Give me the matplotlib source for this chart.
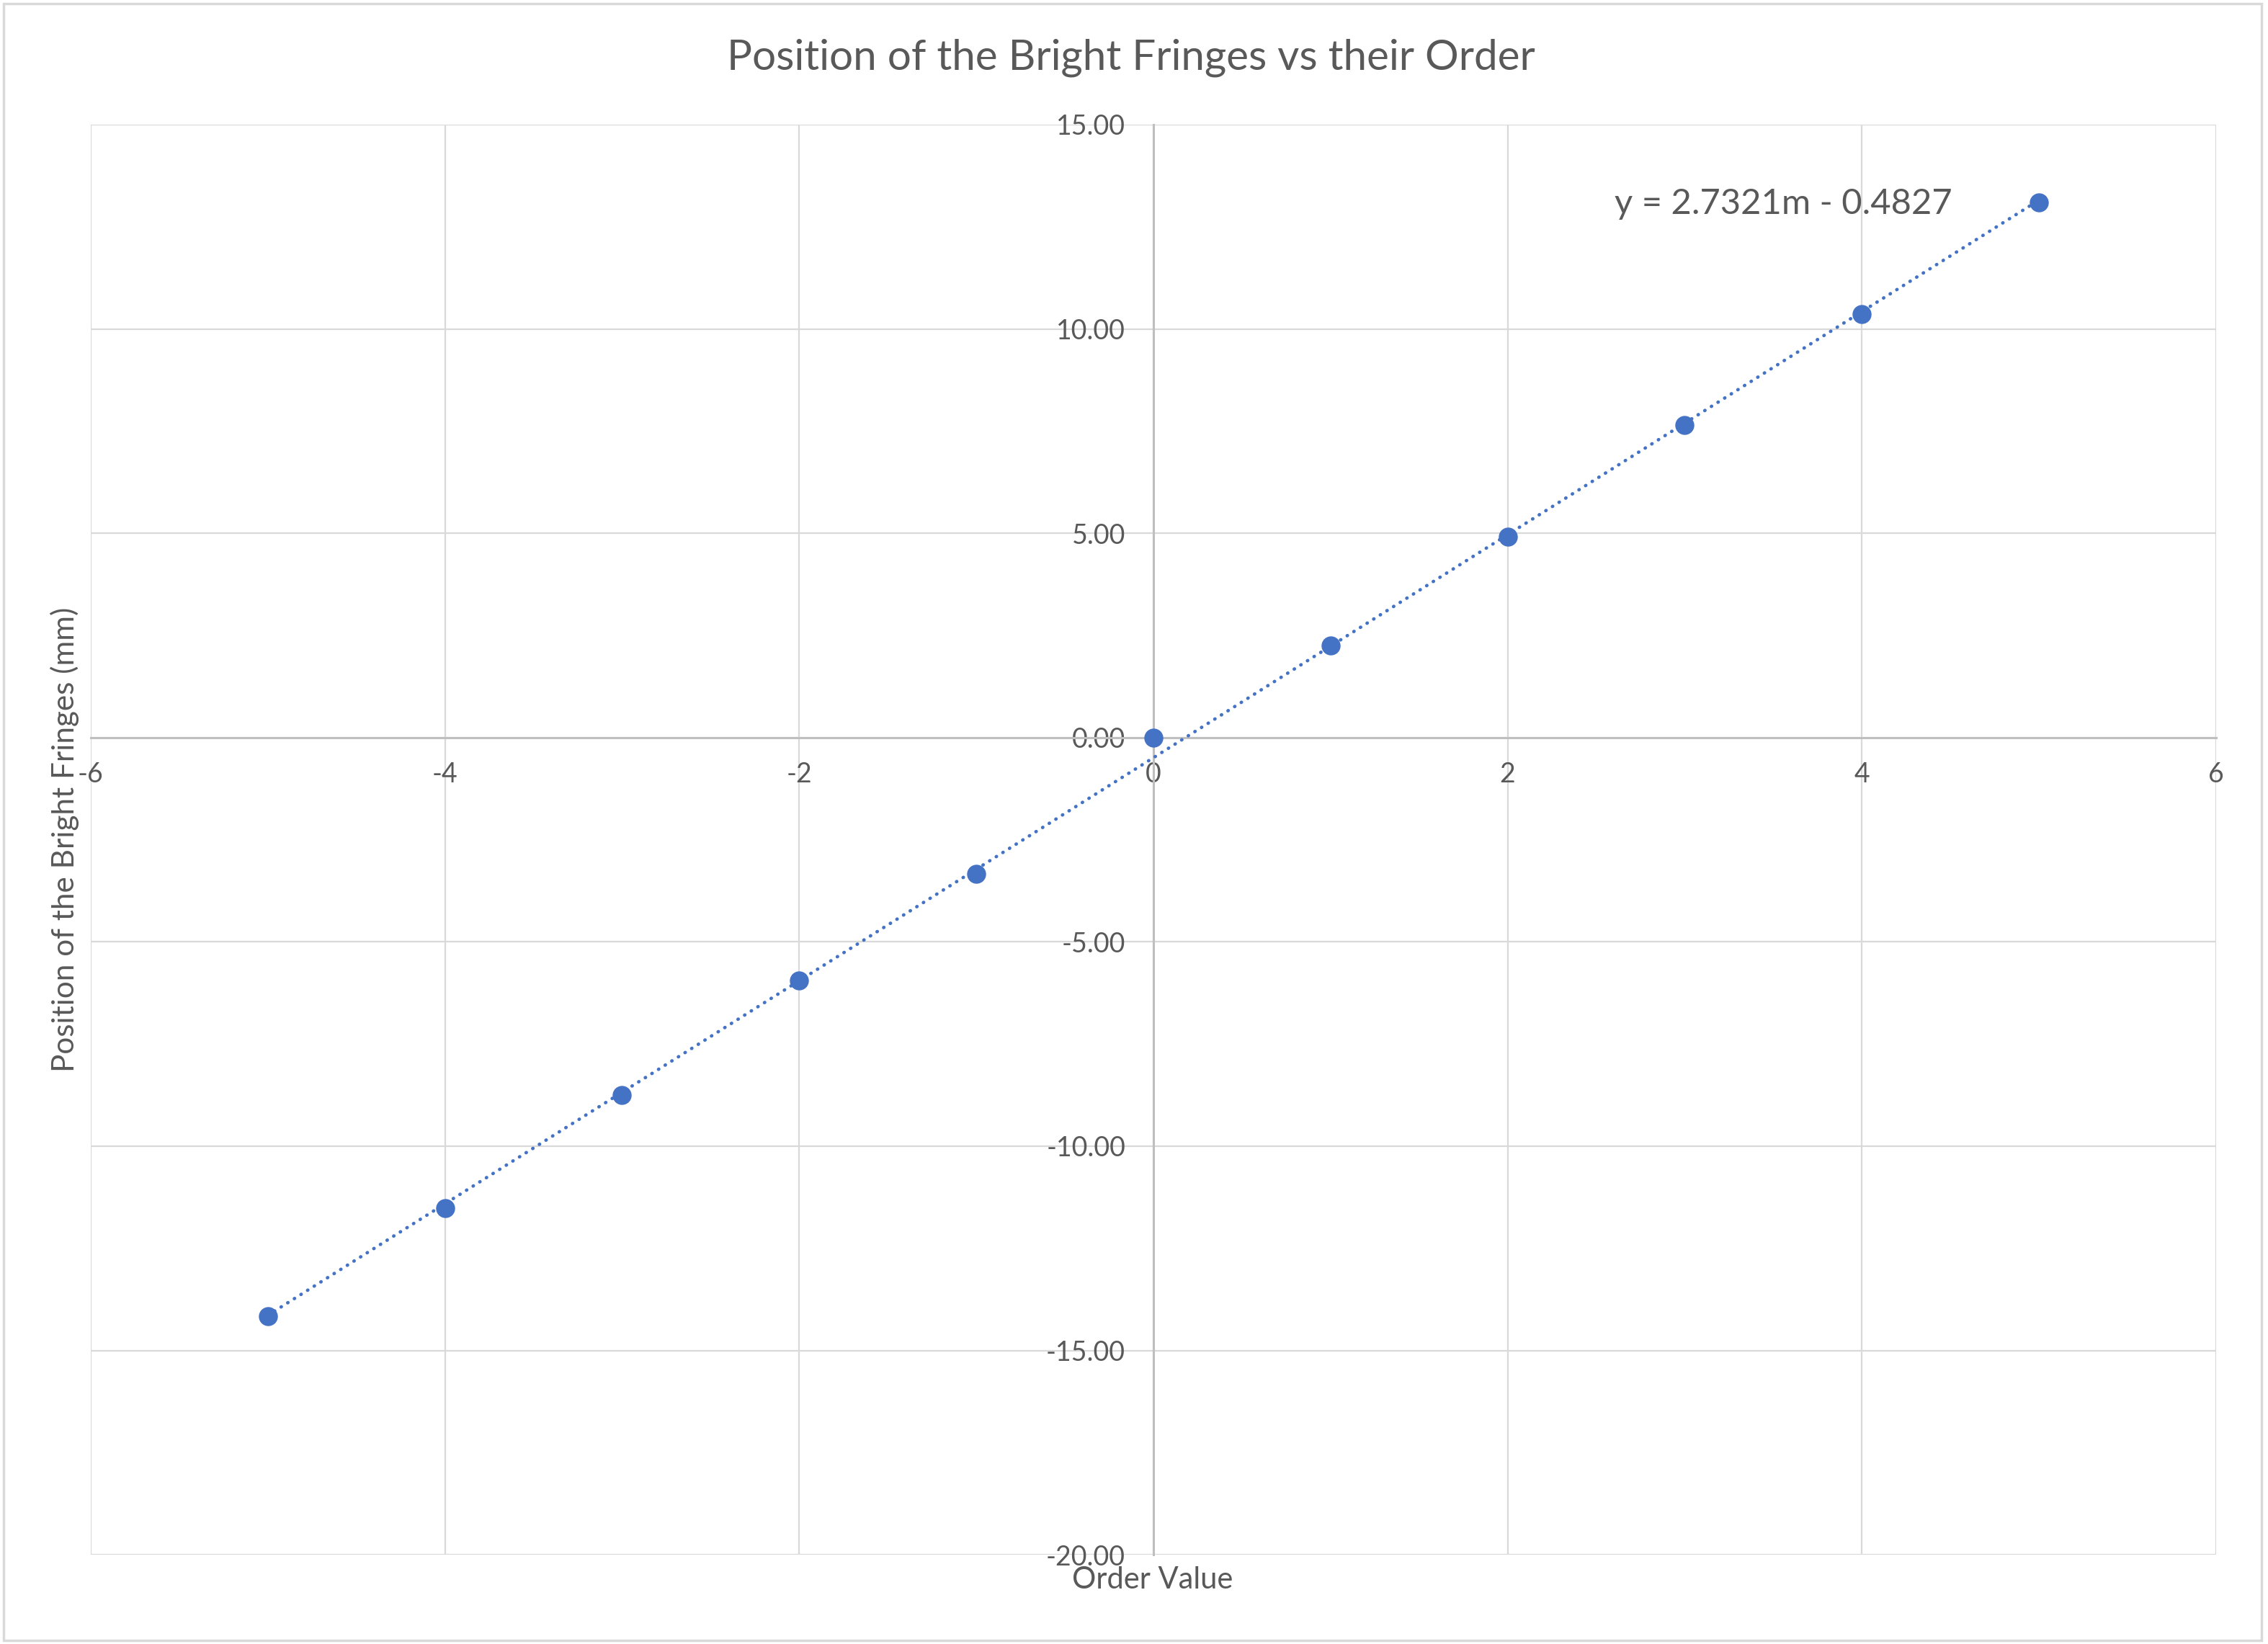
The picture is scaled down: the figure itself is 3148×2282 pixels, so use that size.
import numpy as np
import matplotlib.pyplot as plt
from matplotlib.patches import Rectangle
from matplotlib.ticker import FormatStrFormatter

# order m and measured bright fringe position (mm)
order = [-5, -4, -3, -2, -1, 0, 1, 2, 3, 4, 5]
position = [-14.16, -11.51, -8.75, -5.95, -3.33, 0.0, 2.26, 4.91, 7.64, 10.36, 13.09]
x_ticks = [-6, -4, -2, 0, 2, 4, 6]
y_ticks = [-20, -15, -10, -5, 0, 5, 10, 15]
eq_text = "y = 2.7321m - 0.4827"

plt.rcParams['font.family'] = ['Lato', 'DejaVu Sans']
plt.rcParams['axes.unicode_minus'] = False
grey = '#595959'
blue = '#4472C4'

fig = plt.figure(figsize=(31.48, 22.82), dpi=100)
ax = fig.add_axes([0.04, 0.0543, 0.9371, 0.8699])

# linear trendline
k, b = np.polyfit(order, position, 1)
xt = np.array([min(order), max(order)])
ax.plot(xt, k * xt + b, color=blue, lw=3.4, linestyle=(0, (0.1, 2.2)),
        dash_capstyle='round', zorder=3)
ax.plot(order, position, 'o', color=blue, ms=18, zorder=4)

ax.set_xlim(-6, 6)
ax.set_ylim(-20, 15)
ax.set_xticks(x_ticks)
ax.set_yticks(y_ticks)
ax.yaxis.set_major_formatter(FormatStrFormatter('%.2f'))

ax.grid(True, color='#d9d9d9', lw=1.6)
for gl in ax.get_xgridlines() + ax.get_ygridlines():
    gl.set_clip_on(False)
ax.set_axisbelow(True)

ax.spines['top'].set_visible(False)
ax.spines['right'].set_visible(False)
ax.spines['left'].set_position(('data', 0))
ax.spines['bottom'].set_position(('data', 0))
for s in ['left', 'bottom']:
    ax.spines[s].set_color('#bfbfbf')
    ax.spines[s].set_linewidth(2.2)
    ax.spines[s].set_zorder(2)

ax.tick_params(axis='both', length=0, labelsize=27, labelcolor=grey)
ax.tick_params(axis='y', pad=28)
ax.tick_params(axis='x', pad=24)

fig.text(0.4988, 0.965, "Position of the Bright Fringes vs their Order",
         ha='center', va='center', fontsize=42, color=grey)
fig.text(0.5083, 0.039, "Order Value", ha='center', va='center',
         fontsize=30, color=grey)
fig.text(0.0286, 0.4895, "Position of the Bright Fringes (mm)", ha='center',
         va='center', rotation=90, fontsize=30.4, color=grey)
fig.text(0.7118, 0.876, eq_text, ha='left', va='center', fontsize=35.2, color=grey)

fig.patches.append(Rectangle((0.0016, 0.002), 0.9955, 0.9958, transform=fig.transFigure,
                             fill=False, edgecolor='#d9d9d9', lw=2.5))

plt.savefig('out.png', dpi=100)
